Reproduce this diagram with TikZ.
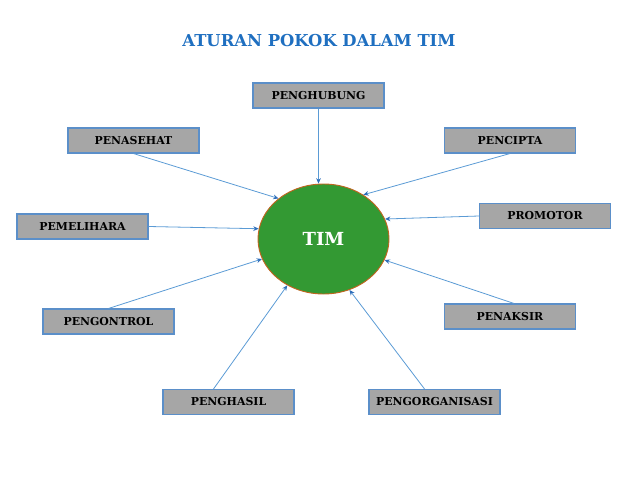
\documentclass[tikz,border=0pt]{standalone}
\usepackage{fontspec}
\setmainfont{DejaVu Serif}
\usetikzlibrary{calc,arrows.meta,shapes.geometric}
\definecolor{boxfill}{HTML}{A6A6A6}
\definecolor{boxline}{HTML}{5B8FC9}
\definecolor{linkblue}{HTML}{5B9BD5}
\definecolor{tipblue}{HTML}{2F6EBA}
\definecolor{timgreen}{HTML}{339933}
\definecolor{timedge}{HTML}{C0651F}
\definecolor{titleblue}{HTML}{1F6FC0}
\begin{document}
\begin{tikzpicture}[x=0.75pt,y=-0.75pt,
  rolebox/.style={draw=boxline,line width=0.8pt,fill=boxfill,minimum width=98.25pt,minimum height=18.75pt,inner sep=0pt,font=\fontsize{8.2}{9}\selectfont\bfseries},
  link/.style={draw=linkblue,line width=0.6pt,-{Stealth[length=4pt,width=3.5pt,color=tipblue]}}]
\useasboundingbox (0,0) rectangle (638,478);
\node[font=\fontsize{12.3}{14}\selectfont\bfseries,text=titleblue] (title) at (319,40.5) {ATURAN POKOK DALAM TIM};
\node[ellipse,draw=timedge,line width=0.7pt,fill=timgreen,minimum width=98.25pt,minimum height=82.5pt,inner sep=0pt,text=white,font=\fontsize{13.5}{16}\selectfont\bfseries] (tim) at (323.5,239) {TIM};
\node[rolebox] (penghubung) at (318.5,95.5) {PENGHUBUNG};
\node[rolebox] (penasehat) at (133.5,140.5) {PENASEHAT};
\node[rolebox] (pemelihara) at (82.5,226.5) {PEMELIHARA};
\node[rolebox] (pengontrol) at (108.5,321.5) {PENGONTROL};
\node[rolebox] (pencipta) at (510,140.5) {PENCIPTA};
\node[rolebox] (promotor) at (545,216) {PROMOTOR};
\node[rolebox] (penaksir) at (510,316.5) {PENAKSIR};
\node[rolebox] (penghasil) at (228.5,402) {PENGHASIL};
\node[rolebox] (pengorganisasi) at (434.5,402) {PENGORGANISASI};
\draw[link] (penghubung.south) -- (penghubung.south |- tim.north);
\draw[link] (penasehat.south) -- (tim.138.6);
\draw[link] (pemelihara.east) -- (tim.171.3);
\draw[link] (pengontrol.north) -- (tim.198);
\draw[link] (pencipta.south) -- (tim.48);
\draw[link] (promotor.west) -- (tim.18.6);
\draw[link] ($(penaksir.north)+(4,0)$) -- (tim.341.4);
\draw[link] ($(penghasil.north)+(-15,0)$) -- (tim.232.9);
\draw[link] ($(pengorganisasi.north)+(-10,0)$) -- (tim.297);
\end{tikzpicture}
\end{document}
